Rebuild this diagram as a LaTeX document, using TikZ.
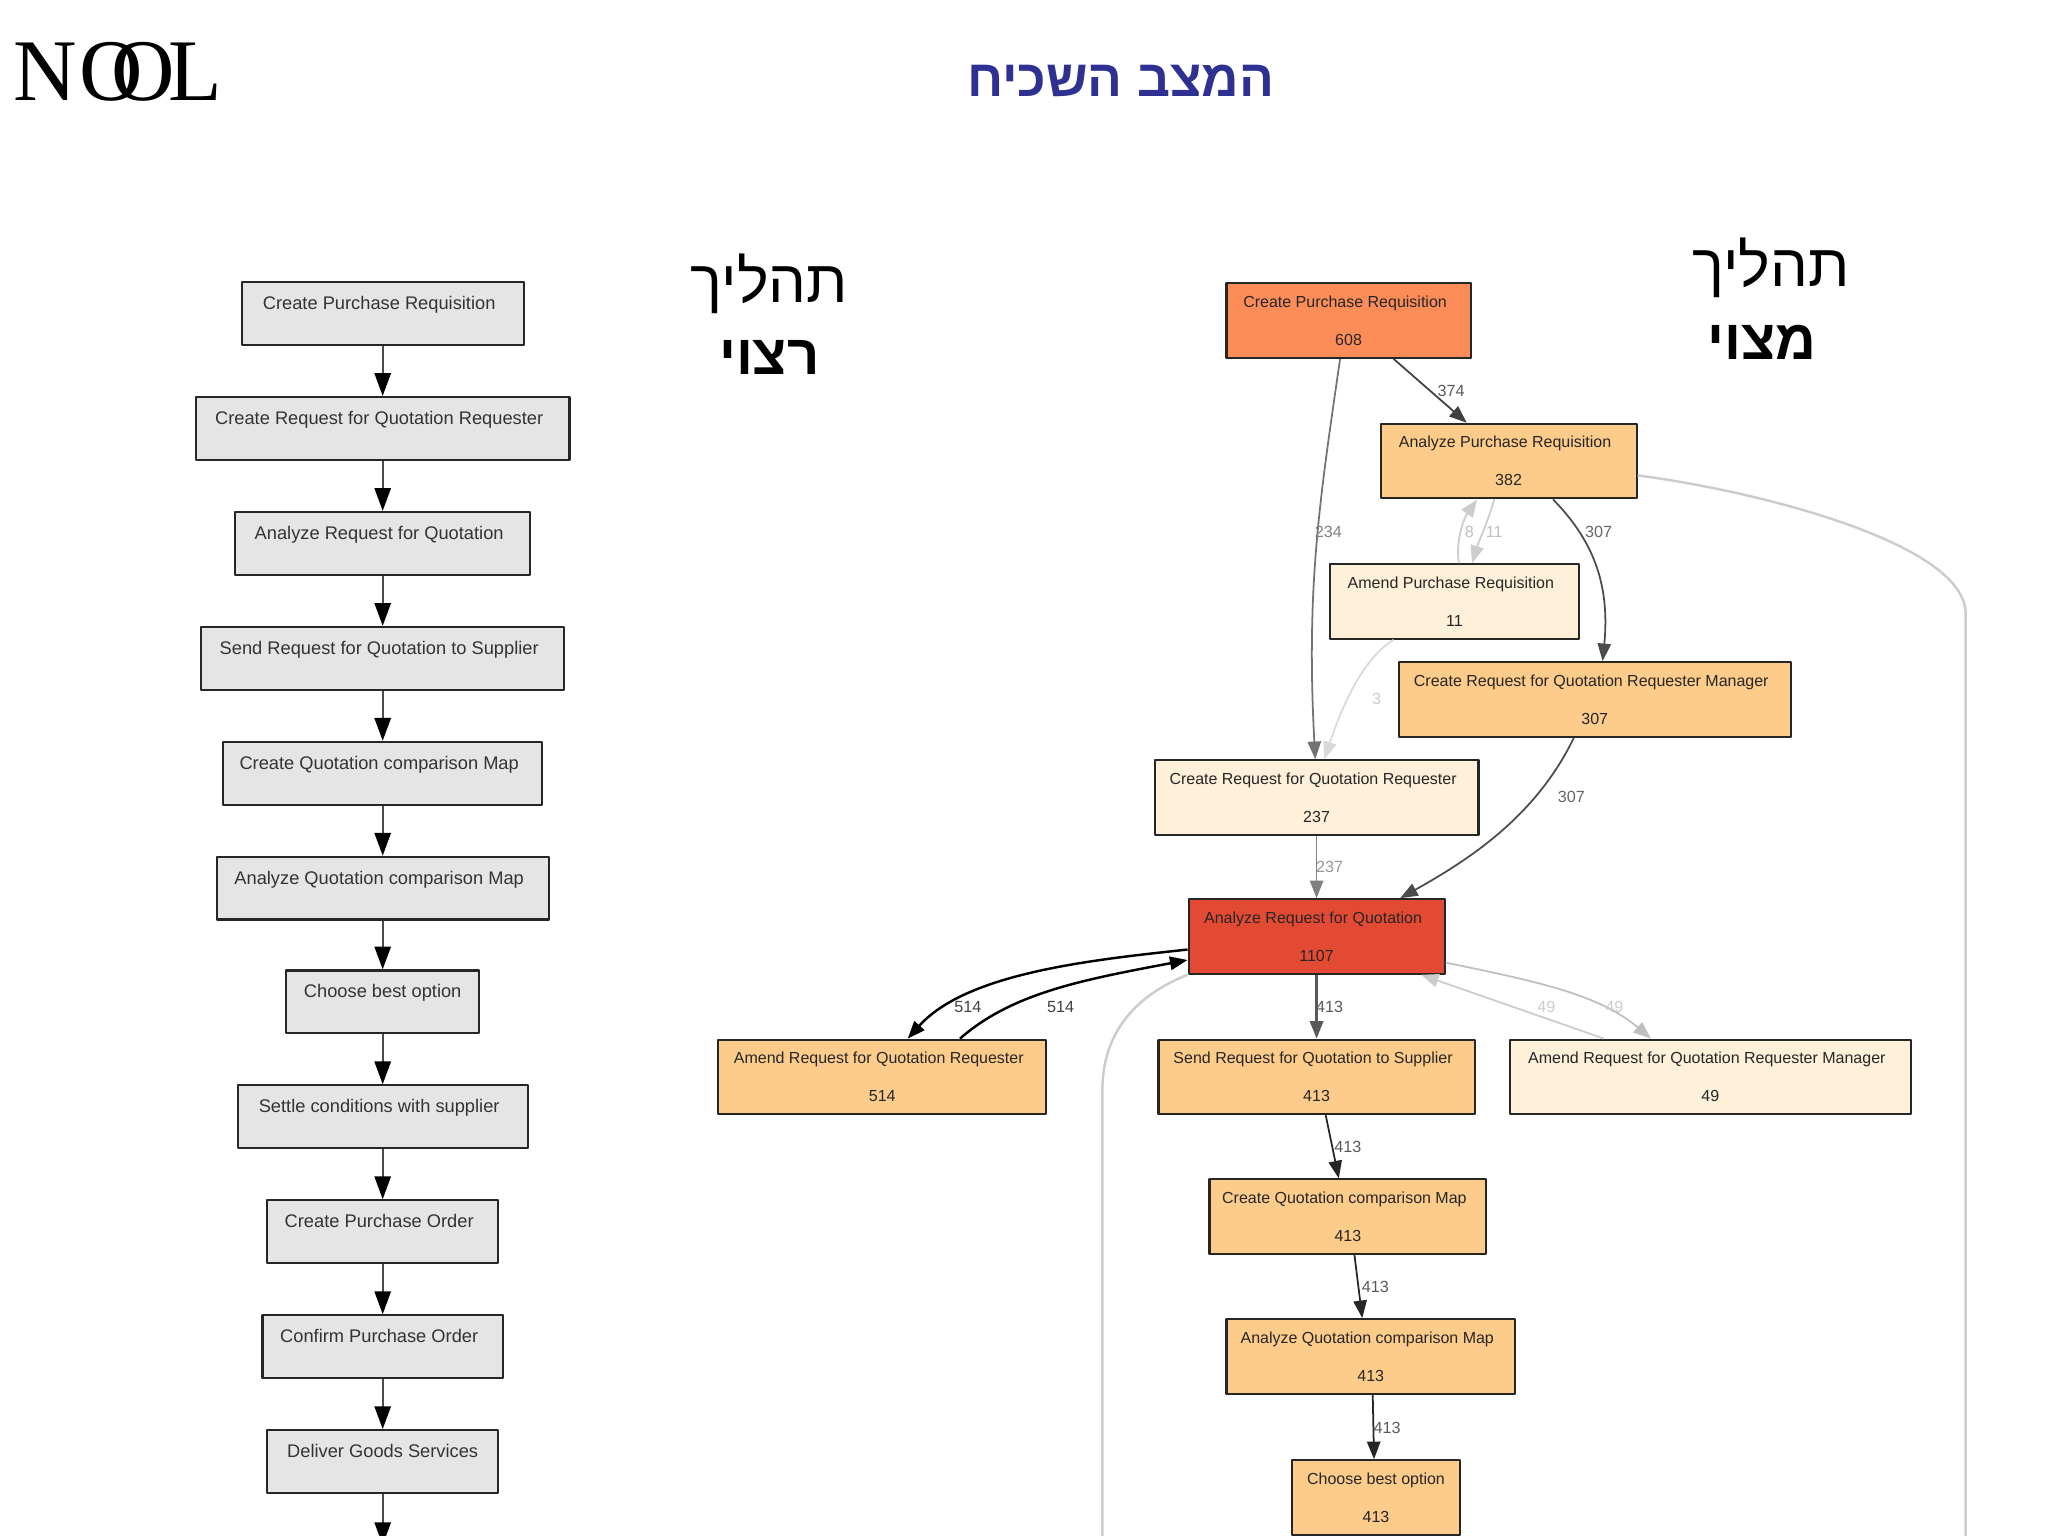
\documentclass[tikz,border=0pt]{standalone}
\usepackage{fontspec}
\setmainfont{Liberation Sans}
\newfontfamily\hebfont[Script=Hebrew]{Liberation Sans}
\newfontfamily\logofont{Liberation Serif}
\TeXXeTstate=1
\usetikzlibrary{arrows.meta}
\newcommand{\un}{0.013061cm}
\newcommand{\proc}[2]{#1\kern2pt\\#2}
\definecolor{boxgray}{HTML}{E5E5E5}
\definecolor{boxlow}{HTML}{FEF0D9}
\definecolor{boxmid}{HTML}{FDCC8A}
\definecolor{boxhigh}{HTML}{FC8D59}
\definecolor{boxtop}{HTML}{E34A33}
\definecolor{titleblue}{HTML}{2E3192}
\tikzset{
	wantbox/.style={draw=black!85,line width=.6pt,fill=boxgray,inner sep=0pt,minimum height=48*\un,text height=21*\un,text depth=27*\un,text=black!80,font=\fontsize{5.2}{6}\selectfont},
	foundbox/.style={draw=black!85,line width=.6pt,inner sep=0pt,minimum height=57*\un,align=center,text=black!85,font=\fontsize{4.55}{10.8}\selectfont},
	elabel/.style={inner sep=0pt,font=\fontsize{4.6}{5}\selectfont},
	hebtext/.style={inner sep=0pt,font=\hebfont\fontsize{17}{20}\selectfont},
	hebbold/.style={inner sep=0pt,font=\hebfont\bfseries\fontsize{16}{20}\selectfont},
	wantline/.style={draw=black!70,line width=.65pt,->,>={Triangle[length=6.5pt,width=4.6pt,color=black]}},
	foundline/.style={line width=.5pt,->,>={Triangle[length=5pt,width=3.8pt]}}
}
\begin{document}
\begin{tikzpicture}[x=\un,y=-\un,line join=round]
	\useasboundingbox (0,0) rectangle (1568,1176);
	% header
	\node[inner sep=0pt,font=\logofont\fontsize{25}{25}\selectfont] (logo) at (90,55) {N\kern.03em O\kern-.35em O\kern-.08em L};
	\node[inner sep=0pt,text=titleblue,font=\hebfont\bfseries\fontsize{14.7}{18}\selectfont] (title) at (858,62) {\beginR המצב השכיח\endR};
	\node[hebtext] (wanta) at (589,217) {\beginR תהליך\endR};
	\node[hebbold] (wantb) at (589,274) {\beginR רצוי\endR};
	\node[hebtext] (founda) at (1356,205) {\beginR תהליך\endR};
	\node[hebbold] (foundb) at (1349,262) {\beginR מצוי\endR};
	% left column
	\node[wantbox,minimum width=216*\un] (w1) at (293,240) {Create Purchase Requisition\kern2pt};
	\node[wantbox,minimum width=286*\un] (w2) at (293,328) {Create Request for Quotation Requester\kern2pt};
	\node[wantbox,minimum width=226*\un] (w3) at (293,416) {Analyze Request for Quotation\kern2pt};
	\node[wantbox,minimum width=278*\un] (w4) at (293,504) {Send Request for Quotation to Supplier\kern2pt};
	\node[wantbox,minimum width=244*\un] (w5) at (293,592) {Create Quotation comparison Map\kern2pt};
	\node[wantbox,minimum width=254*\un] (w6) at (293,680) {Analyze Quotation comparison Map\kern2pt};
	\node[wantbox,minimum width=148*\un] (w7) at (293,767) {Choose best option};
	\node[wantbox,minimum width=222*\un] (w8) at (293,855) {Settle conditions with supplier\kern2pt};
	\node[wantbox,minimum width=177*\un] (w9) at (293,943) {Create Purchase Order\kern2pt};
	\node[wantbox,minimum width=184*\un] (w10) at (293,1031) {Confirm Purchase Order\kern2pt};
	\node[wantbox,minimum width=177*\un] (w11) at (293,1119) {Deliver Goods Services};
	\coordinate (wend) at (293,1183);
	\draw[wantline] (w1)--(w2);
	\draw[wantline] (w2)--(w3);
	\draw[wantline] (w3)--(w4);
	\draw[wantline] (w4)--(w5);
	\draw[wantline] (w5)--(w6);
	\draw[wantline] (w6)--(w7);
	\draw[wantline] (w7)--(w8);
	\draw[wantline] (w8)--(w9);
	\draw[wantline] (w9)--(w10);
	\draw[wantline] (w10)--(w11);
	\draw[wantline] (w11)--(wend);
	% right graph
	\node[foundbox,fill=boxhigh,minimum width=187*\un] (f1) at (1032.5,245.5) {\proc{Create Purchase Requisition}{608}};
	\node[foundbox,fill=boxmid,minimum width=196*\un] (f2) at (1155,353) {\proc{Analyze Purchase Requisition}{382}};
	\node[foundbox,fill=boxlow,minimum width=191*\un] (f3) at (1113.5,460.5) {\proc{Amend Purchase Requisition}{11}};
	\node[foundbox,fill=boxmid,minimum width=300*\un] (f4) at (1221,535.5) {\proc{Create Request for Quotation Requester Manager}{307}};
	\node[foundbox,fill=boxlow,minimum width=248*\un] (f5) at (1008,610.5) {\proc{Create Request for Quotation Requester}{237}};
	\node[foundbox,fill=boxtop,minimum width=196*\un] (f6) at (1008,717) {\proc{Analyze Request for Quotation}{1107}};
	\node[foundbox,fill=boxmid,minimum width=251*\un] (f7) at (675.5,824.5) {\proc{Amend Request for Quotation Requester}{514}};
	\node[foundbox,fill=boxmid,minimum width=242*\un] (f8) at (1008,824.5) {\proc{Send Request for Quotation to Supplier}{413}};
	\node[foundbox,fill=boxlow,minimum width=307*\un] (f9) at (1309.5,824.5) {\proc{Amend Request for Quotation Requester Manager}{49}};
	\node[foundbox,fill=boxmid,minimum width=212*\un] (f10) at (1032,931.5) {\proc{Create Quotation comparison Map}{413}};
	\node[foundbox,fill=boxmid,minimum width=221*\un] (f11) at (1049.5,1038.5) {\proc{Analyze Quotation comparison Map}{413}};
	\node[foundbox,fill=boxmid,minimum width=129*\un] (f12) at (1053.5,1146.5) {\proc{Choose best option\kern-2pt}{413}};
	\coordinate (fendr) at (1505,1176);
	\coordinate (fendl) at (844,1176);
	% connectors
	\draw[foundline,black!75] (1067,0 |- f1.south)--(1123,0 |- f2.north);
	\draw[foundline,black!55] (1026,0 |- f1.south) .. controls (1010,385) and (1000,450) .. (1007,0 |- f5.north);
	\draw[foundline,black!20] (1144,0 |- f2.south) .. controls (1139,400) and (1132,415) .. (1127,0 |- f3.north);
	\draw[foundline,black!20] (1117,0 |- f3.north) .. controls (1114,412) and (1122,395) .. (1131,0 |- f2.south);
	\draw[foundline,black!70] (1189,0 |- f2.south) .. controls (1218,412) and (1233,445) .. (1227,0 |- f4.north);
	\draw[foundline,black!15] (1067,0 |- f3.south) .. controls (1042,505) and (1026,545) .. (1014,0 |- f5.north);
	\draw[foundline,black!70] (1205,0 |- f4.south) .. controls (1176,625) and (1125,658) .. (1072,0 |- f6.north);
	\draw[foundline,black!50] (f5)--(f6);
	\draw[foundline,black,line width=.7pt] (f6.west |- 0,727) .. controls (835,735) and (740,745) .. (695,0 |- f7.north);
	\draw[foundline,black,line width=.7pt] (735,0 |- f7.north) .. controls (775,760) and (830,750) .. (f6.west |- 0,735);
	\draw[foundline,black!65,line width=.7pt] (f6)--(f8);
	\draw[foundline,black!25] (f6.east |- 0,737) .. controls (1180,752) and (1225,762) .. (1264,0 |- f9.north);
	\draw[foundline,black!20] (1228,0 |- f9.north)--(1088,0 |- f6.south);
	\draw[foundline,black!85] (1015,0 |- f8.south)--(1025,0 |- f10.north);
	\draw[foundline,black!85] (1037,0 |- f10.south)--(1043,0 |- f11.north);
	\draw[foundline,black!85] (1051,0 |- f11.south)--(1052,0 |- f12.north);
	\draw[black!20,line width=.7pt] (f2.east |- 0,364) .. controls (1340,375) and (1505,415) .. (1505,470)--(fendr);
	\draw[black!20,line width=.7pt] (f6.south west) .. controls (870,762) and (844,790) .. (844,835)--(fendl);
	% edge labels
	\node[elabel,text=black!65] (e1) at (1111,299) {374};
	\node[elabel,text=black!50] (e2) at (1017,407) {234};
	\node[elabel,text=black!25] (e3) at (1125,407) {8};
	\node[elabel,text=black!25] (e4) at (1144,407) {11};
	\node[elabel,text=black!60] (e5) at (1224,407) {307};
	\node[elabel,text=black!20] (e6) at (1054,535) {3};
	\node[elabel,text=black!60] (e7) at (1203,610) {307};
	\node[elabel,text=black!40] (e8) at (1018,664) {237};
	\node[elabel,text=black!75] (e9) at (741,771) {514};
	\node[elabel,text=black!75] (e10) at (812,771) {514};
	\node[elabel,text=black!65] (e11) at (1018,771) {413};
	\node[elabel,text=black!20] (e12) at (1184,771) {49};
	\node[elabel,text=black!20] (e13) at (1236,771) {49};
	\node[elabel,text=black!65] (e14) at (1032,878) {413};
	\node[elabel,text=black!65] (e15) at (1053,985) {413};
	\node[elabel,text=black!65] (e16) at (1062,1093) {413};
\end{tikzpicture}
\end{document}
